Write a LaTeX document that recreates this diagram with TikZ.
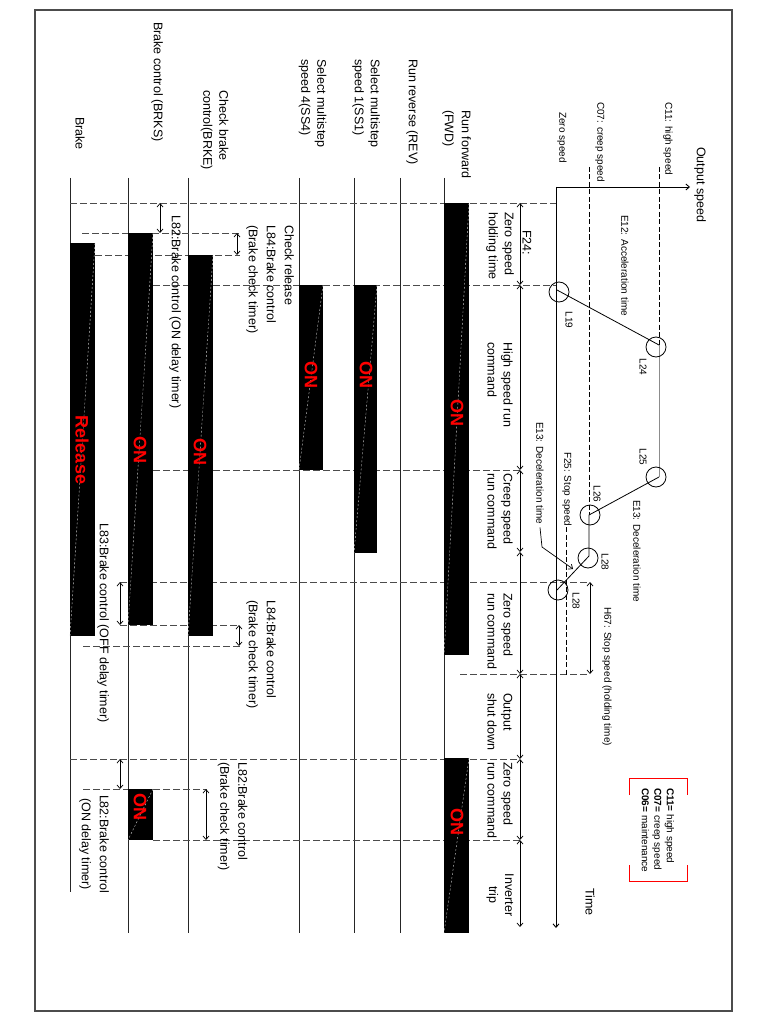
\documentclass[tikz,border=0pt]{standalone}
\usepackage{fontspec}
\setmainfont{Liberation Sans}
\usetikzlibrary{arrows.meta}
\newcommand\sigbar[4]{\fill[black] (#1,#3) rectangle (#2,#4); \draw[diag] (#2,#3) -- (#1,#4);}
\begin{document}
\begin{tikzpicture}[x=1pt,y=-1pt,
  >={Straight Barb[length=3.5pt,width=6pt]},
  base/.style={line width=0.9pt, black!85},
  tline/.style={line width=0.8pt, dash pattern=on 7pt off 3pt, black!70},
  rdash/.style={line width=0.8pt, dash pattern=on 5pt off 2.5pt, black},
  dim/.style={<->, line width=0.7pt},
  lbl/.style={rotate=-90, inner sep=0pt, font=\fontsize{12.5}{16}\selectfont, align=left},
  ann/.style={rotate=-90, inner sep=0pt, font=\fontsize{12.5}{18}\selectfont, align=left},
  sml/.style={rotate=-90, inner sep=0pt, font=\fontsize{10}{12.5}\selectfont, align=left},
  ontxt/.style={rotate=-90, inner sep=0pt, text=red, font=\fontsize{18}{18}\selectfont\bfseries},
  diag/.style={white!80!black, dash pattern=on 2pt off 2pt, line width=0.4pt},
]
\useasboundingbox (0,0) rectangle (768,1024);
\fill[white] (0,0) rectangle (768,1024);
% border
\draw[black!70, line width=1.2pt] (35,10) rectangle (732,1011);

% signal baselines
\draw[base] (70,178) -- (70,892);
\foreach \x in {128,188,299,354,400,444} \draw[base] (\x,178) -- (\x,933);

% time division lines
\draw[tline] (70,203) -- (556,203);
\draw[tline] (153,285) -- (557,285);
\draw[tline] (153,470) -- (520,470);
\draw[tline] (120,582) -- (590,582);
\draw[tline] (460,674) -- (590,674);
\draw[tline] (70,759) -- (520,759);
\draw[tline] (153,840) -- (520,840);
% brake timer lines
\draw[tline] (82,233) -- (240,233);
\draw[tline] (95,255) -- (240,255);
\draw[tline] (120,625) -- (240,625);
\draw[tline] (83,646) -- (240,646);
\draw[tline] (83,789) -- (207,789);

% bars
\sigbar{444}{469}{203}{655}
\sigbar{444}{469}{758}{933}
\sigbar{354}{377}{285}{553}
\sigbar{299}{323}{285}{470}
\sigbar{188}{213}{255}{636}
\sigbar{128}{153}{233}{625}
\sigbar{128}{153}{789}{840}
\sigbar{70}{95}{243}{636}

% ON texts
\node[ontxt] (onfwda) at (457,413) {ON};
\node[ontxt] (onfwdb) at (457,822) {ON};
\node[ontxt] (onssa) at (366,375) {ON};
\node[ontxt] (onssb) at (311,375) {ON};
\node[ontxt] (onbrke) at (200,452) {ON};
\node[ontxt] (onbrksa) at (140,450) {ON};
\node[ontxt] (onbrksb) at (140,807) {ON};
\node[ontxt] (release) at (82,450) {Release};

% signal labels
\node[lbl, anchor=west, font=\fontsize{12.5}{17}\selectfont] (fwdl) at (456.5,110) {Run forward\\(FWD)};
\node[lbl, anchor=west] (revl) at (412,59) {Run reverse (REV)};
\node[lbl, anchor=west] (ss1l) at (366,59) {Select multistep\\speed 1(SS1)};
\node[lbl, anchor=west] (ss4l) at (312.5,59) {Select multistep\\speed 4(SS4)};
\node[lbl, anchor=west] (brkel) at (214.5,90) {Check brake\\control(BRKE)};
\node[lbl, anchor=west] (brksl) at (157,22) {Brake control (BRKS)};
\node[lbl, anchor=west] (brakel) at (80,117) {Brake};

% speed chart
\draw[->, line width=0.9pt] (556,187) -- (690,187);
\draw[->, line width=0.9pt] (556,187) -- (556,928);
\draw[rdash] (659,167) -- (659,345);
\draw[rdash] (589,167) -- (589,515);
\draw[rdash] (566,527) -- (566,675);
\draw[line width=0.8pt] (557,290) -- (659,345);
\draw[line width=0.9pt, black!45] (659,345) -- (659,477);
\draw[line width=0.8pt] (659,477) -- (589,515) -- (589,556) -- (557,590);
\foreach \p in {(559,292),(656,347),(656,477),(590,515),(588,558),(558,590)}
  \draw[line width=0.8pt] \p circle (10);

\node[lbl, anchor=west] (outspd) at (700,147) {Output speed};
\node[sml, anchor=west] (c11l) at (668,102) {C11: high speed};
\node[sml, anchor=west] (c07l) at (600,102) {C07: creep speed};
\node[sml, anchor=west] (zerol) at (562,112) {Zero speed};
\node[sml, anchor=west] (e12l) at (625,215) {E12: Acceleration time};
\node[sml] (l19) at (569,320) {L19};
\node[sml] (l24) at (643,367) {L24};
\node[sml] (l25) at (643,457) {L25};
\node[sml] (l26) at (597,494) {L26};
\node[sml] (l28a) at (605,562) {L28};
\node[sml] (l28b) at (576,601) {L28};
\node[sml, anchor=west] (e13r) at (637,500) {E13: Deceleration time};
\node[sml, anchor=west] (f25l) at (567,452) {F25: Stop speed};
\node[sml, anchor=west] (e13l) at (540,422) {E13: Deceleration time};
\node[sml, anchor=west] (h67l) at (607,607) {H67: Stop speed (holding time)};
\node[lbl, anchor=west] (timel) at (590,888) {Time};
\draw[->, line width=0.7pt] ([yshift=-3pt]e13l.east) -- (542,547) -- (573,569);
\draw[dim] (590,582) -- (590,674);

% legend
\draw[red, line width=1pt] (629,795) -- (629,778) -- (687,778) -- (687,795);
\draw[red, line width=1pt] (629,865) -- (629,881) -- (687,881) -- (687,865);
\node[sml, anchor=west] (legend) at (658,788) {\textbf{C11=} high speed\\\textbf{C07=} creep speed\\\textbf{C06=} maintenance};

% time segment dimensions
\draw[dim] (520,203) -- (520,285);
\draw[dim] (520,285) -- (520,470);
\draw[dim] (520,470) -- (520,552);
\draw[dim] (520,552) -- (520,674);
\draw[dim] (520,674) -- (520,759);
\draw[dim] (520,759) -- (520,840);
\draw[dim] (520,840) -- (520,927);
\node[lbl, anchor=west] (f24) at (527,230) {F24:};
\node[lbl, anchor=west] (seg1) at (500,212) {Zero speed\\holding time};
\node[lbl, anchor=west] (seg2) at (500,342) {High speed run\\command};
\node[lbl, anchor=west] (seg3) at (500,473) {Creep speed\\run command};
\node[lbl, anchor=west] (seg4) at (500,593) {Zero speed\\run command};
\node[lbl, anchor=west] (seg5) at (500,693) {Output\\shut down};
\node[lbl, anchor=west] (seg6) at (500,762) {Zero speed\\run command};
\node[lbl, align=center] (seg7) at (500,895) {Inverter\\trip};

% brake timer dimensions
\draw[dim] (160,203) -- (160,233);
\draw[dim] (237,233) -- (237,255);
\draw[dim] (120,582) -- (120,625);
\draw[dim] (239,625) -- (239,646);
\draw[dim] (120,759) -- (120,789);
\draw[dim] (206,789) -- (206,840);
\node[ann, anchor=west] (l82a) at (175,215) {L82:Brake control (ON delay timer)};
\node[ann, anchor=west] (l84a) at (270,225) {Check release\\L84:Brake control\\(Brake check timer)};
\node[ann, anchor=west] (l83) at (103,523) {L83:Brake control (OFF delay timer)};
\node[ann, anchor=west] (l84b) at (261,600) {L84:Brake control\\(Brake check timer)};
\node[ann, align=center] (l82b) at (94,844) {L82:Brake control\\(ON delay timer)};
\node[ann, anchor=west] (l82c) at (232.5,762) {L82:Brake control\\(Brake check timer)};
\end{tikzpicture}
\end{document}
